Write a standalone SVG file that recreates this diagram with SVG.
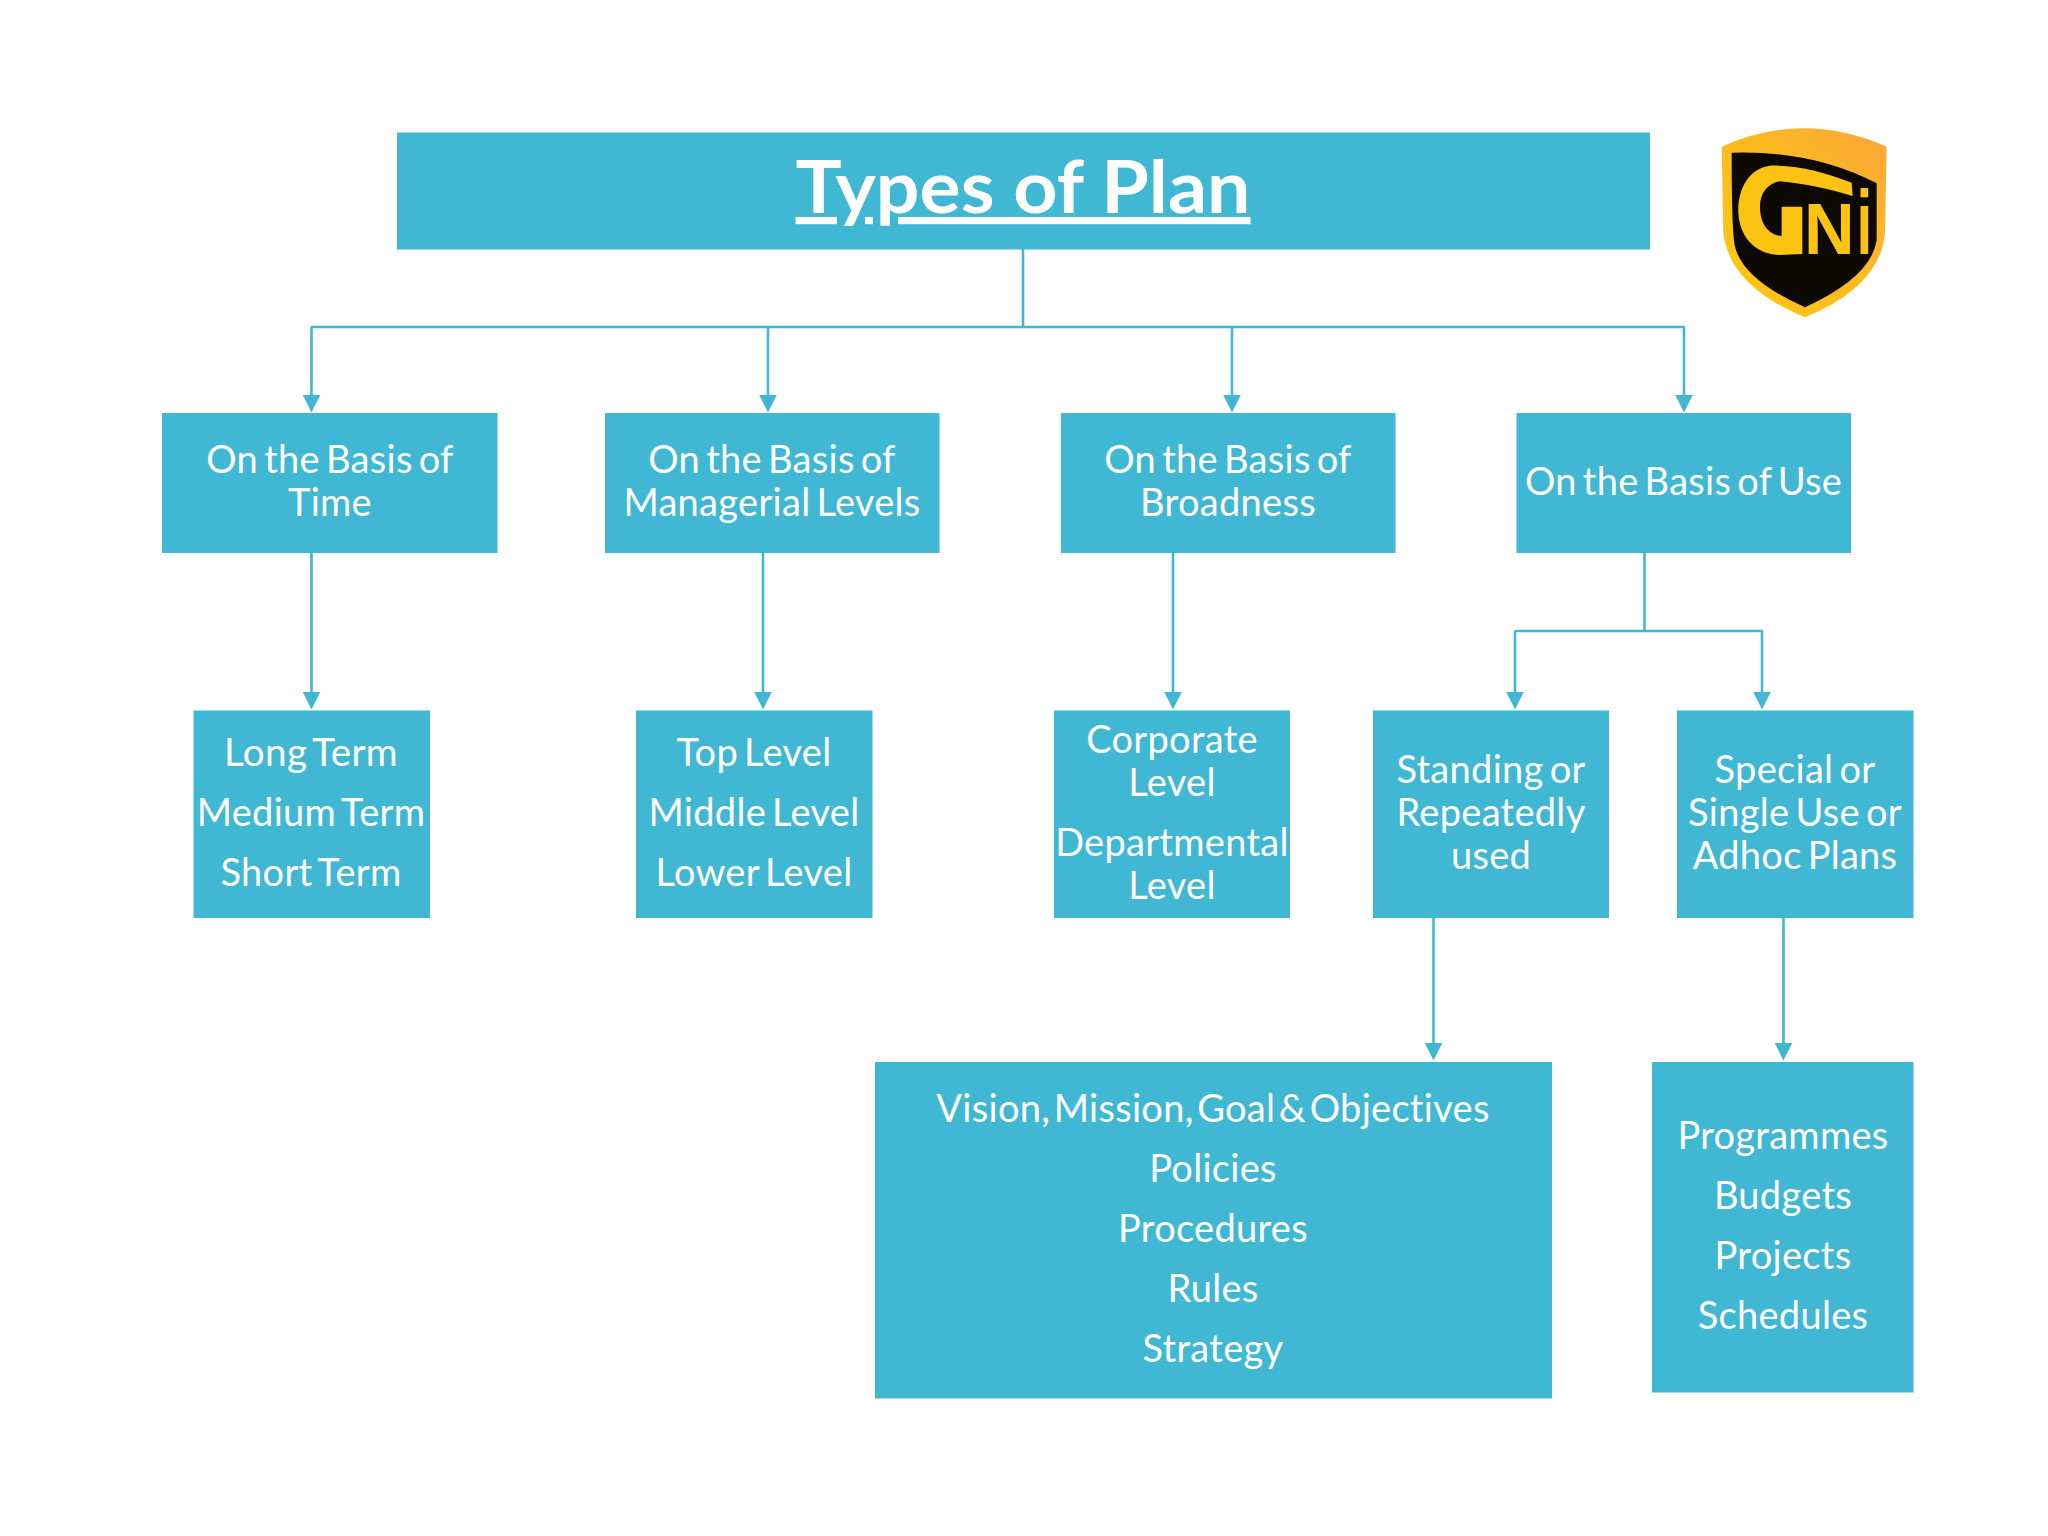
<svg xmlns="http://www.w3.org/2000/svg" width="2048" height="1536" viewBox="0 0 2048 1536">
<style>
.box{fill:#40b8d4}
.t{font-family:"Lato","Open Sans","Liberation Sans",sans-serif;font-size:38px;fill:#fff;text-anchor:middle;word-spacing:-4px;letter-spacing:.3px}
.title{font-family:"Lato","Open Sans","Liberation Sans",sans-serif;font-size:72px;font-weight:700;fill:#fff;text-anchor:middle;text-decoration:underline;text-decoration-skip-ink:none}
.c{fill:none;stroke:#40b8d4;stroke-width:2.6}
.ca{fill:none;stroke:#40b8d4;stroke-width:2.6;marker-end:url(#arrow)}
</style>
<defs>
<marker id="arrow" markerUnits="userSpaceOnUse" markerWidth="18" markerHeight="18" refX="8.5" refY="7" orient="0" viewBox="0 0 17 17"><path d="M0 0H17L8.5 17Z" fill="#40b8d4"/></marker>
<linearGradient id="gold" x1="0" y1="1" x2="1" y2="0"><stop offset="0" stop-color="#fdc70f"/><stop offset=".55" stop-color="#fdbb20"/><stop offset="1" stop-color="#f9a73a"/></linearGradient>
</defs>
<rect width="2048" height="1536" fill="#fff"/>
<g id="connectors">
<path class="c" d="M1023 249V327M311 327H1685"/>
<path class="ca" d="M311.500 327V402"/><path class="ca" d="M768 327V402"/><path class="ca" d="M1232 327V402"/><path class="ca" d="M1684 327V402"/>
<path class="ca" d="M311.500 553V699"/><path class="ca" d="M763 553V699"/><path class="ca" d="M1173 553V699"/>
<path class="c" d="M1644.500 553V631M1515 631H1763"/>
<path class="ca" d="M1515 631V699"/><path class="ca" d="M1762 631V699"/>
<path class="ca" d="M1433.500 918V1050"/><path class="ca" d="M1783.500 918V1050"/>
</g>
<g id="n-title"><rect class="box" x="397" y="132.500" width="1253" height="117"/><text class="title" x="1023" y="213" textLength="455" lengthAdjust="spacingAndGlyphs">Types of Plan</text></g>
<g id="n-time"><rect class="box" x="162" y="413" width="335.500" height="140"/><text class="t" x="330" y="473">On the Basis of</text><text class="t" x="330" y="516">Time</text></g>
<g id="n-managerial"><rect class="box" x="605" y="413" width="334.500" height="140"/><text class="t" x="772" y="473">On the Basis of</text><text class="t" x="772" y="516">Managerial Levels</text></g>
<g id="n-broadness"><rect class="box" x="1061" y="413" width="334.500" height="140"/><text class="t" x="1228" y="473">On the Basis of</text><text class="t" x="1228" y="516">Broadness</text></g>
<g id="n-use"><rect class="box" x="1516.500" y="413" width="334.500" height="140"/><text class="t" x="1683.500" y="495">On the Basis of Use</text></g>
<g id="n-term"><rect class="box" x="193.500" y="710.500" width="236.500" height="207.500"/><text class="t" x="311" y="766" textLength="174" lengthAdjust="spacingAndGlyphs">Long Term</text><text class="t" x="311" y="826">Medium Term</text><text class="t" x="311" y="886">Short Term</text></g>
<g id="n-level"><rect class="box" x="636" y="710.500" width="236.500" height="207.500"/><text class="t" x="754" y="766">Top Level</text><text class="t" x="754" y="826">Middle Level</text><text class="t" x="754" y="886">Lower Level</text></g>
<g id="n-corporate"><rect class="box" x="1054" y="710.500" width="236" height="207.500"/><text class="t" x="1172" y="753">Corporate</text><text class="t" x="1172" y="795.500">Level</text><text class="t" x="1172" y="856">Departmental</text><text class="t" x="1172" y="898.500">Level</text></g>
<g id="n-standing"><rect class="box" x="1373" y="710.500" width="236" height="207.500"/><text class="t" x="1491" y="782.500">Standing or</text><text class="t" x="1491" y="825.500">Repeatedly</text><text class="t" x="1491" y="868.500">used</text></g>
<g id="n-special"><rect class="box" x="1677" y="710.500" width="236.500" height="207.500"/><text class="t" x="1795" y="782.500">Special or</text><text class="t" x="1795" y="825.500">Single Use or</text><text class="t" x="1795" y="868.500">Adhoc Plans</text></g>
<g id="n-standing-list"><rect class="box" x="875" y="1062" width="677" height="336.500"/><text class="t" x="1213" y="1122" style="word-spacing:-6.500px">Vision, Mission, Goal &amp; Objectives</text><text class="t" x="1213" y="1182">Policies</text><text class="t" x="1213" y="1242">Procedures</text><text class="t" x="1213" y="1302">Rules</text><text class="t" x="1213" y="1362">Strategy</text></g>
<g id="n-special-list"><rect class="box" x="1652" y="1062" width="261.500" height="330.500"/><text class="t" x="1783" y="1149">Programmes</text><text class="t" x="1783" y="1209">Budgets</text><text class="t" x="1783" y="1269">Projects</text><text class="t" x="1783" y="1329">Schedules</text></g>
<g id="logo" transform="translate(1680 100) scale(.3333)">
<path d="M125 140Q370 30 620 140L615 400Q600 560 375 652Q150 560 130 400Z" fill="url(#gold)"/>
<path d="M155 158Q400 150 590 250L590 420Q575 530 375 622Q190 540 165 440Q155 400 155 158Z" fill="#0d0a06"/>
<path d="M515 248C430 215 350 195 270 197C205 205 172 270 175 340C180 420 235 465 300 465L367 462V320H305V408C265 405 240 370 240 320C240 280 262 250 300 244C370 250 450 268 518 288Z" fill="#fdc311"/>
<text x="372" y="462" font-family="Liberation Sans,sans-serif" font-weight="700" font-size="215" fill="#fdc311" textLength="152" lengthAdjust="spacingAndGlyphs">N</text>
<text x="530" y="462" font-family="Liberation Sans,sans-serif" font-weight="700" font-size="272" fill="#fdc311" textLength="46" lengthAdjust="spacingAndGlyphs">i</text>
</g>
</svg>
